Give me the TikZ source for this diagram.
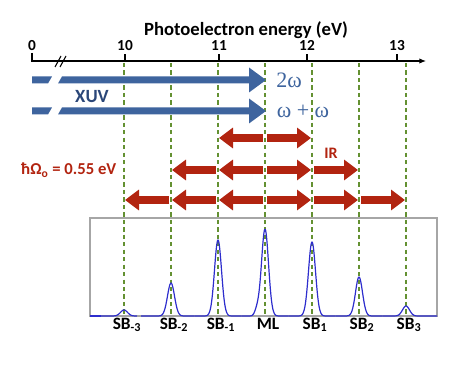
\documentclass[tikz,border=0pt]{standalone}
\usepackage{fontspec}
\setmainfont{Carlito}
\newfontfamily\serifgreek{Liberation Serif}
\usetikzlibrary{arrows.meta}
\definecolor{xuvblue}{RGB}{62,100,158}
\definecolor{xuvtext}{RGB}{42,70,120}
\definecolor{irred}{RGB}{178,36,16}
\definecolor{gridgreen}{RGB}{100,145,50}
\definecolor{peakblue}{RGB}{45,45,205}
\begin{document}
\begin{tikzpicture}[x=0.75pt,y=-0.75pt,
    gridline/.style={gridgreen, line width=0.9pt, dash pattern=on 3.2pt off 2.4pt},
    irarrow/.style={irred, line width=6pt, -{Triangle[length=10.5pt,width=15pt]}},
    ticklab/.style={font=\fontsize{11.5}{13}\selectfont\bfseries, anchor=base},
    sblab/.style={font=\fontsize{13}{15}\selectfont\bfseries, anchor=base},
    peakline/.style={peakblue, line width=0.9pt}]
\useasboundingbox (0,0) rectangle (474,366);

% Dashed lines through the peaks
\foreach \k in {0,...,6}
    \draw[gridline] ({124+47*\k},63) -- ({124+47*\k},316);

% Energy axis
\draw[line width=0.8pt, -{Latex[length=5pt,width=4pt]}] (32,53) -- (32,61) -- (426,61);
\draw[line width=0.8pt] (55,67) -- (61,56);
\draw[line width=0.8pt] (60,67) -- (66,56);
\node[ticklab] (t0) at (32,51) {0};
\foreach \x/\lab in {125/10, 219/11, 307/12, 397/13} {
    \draw[line width=0.8pt] (\x,61) -- (\x,54);
    \node[ticklab] (t\lab) at (\x,51) {\lab};
}
\node[font=\fontsize{14}{16}\selectfont\bfseries, anchor=base] (title) at (246,36) {Photoelectron energy (eV)};

% XUV arrows
\foreach \y in {80,111} {
    \fill[xuvblue] (32,\y-3.5) -- (52,\y-3.5) -- (48,\y+3.5) -- (32,\y+3.5) -- cycle;
    \fill[xuvblue] (62,\y-3.5) -- (249,\y-3.5) -- (249,\y-12.5) -- (266,\y)
        -- (249,\y+12.5) -- (249,\y+3.5) -- (58,\y+3.5) -- cycle;
}
\node[text=xuvtext, font=\fontsize{14}{16}\selectfont\bfseries] (xuv) at (92,97) {XUV};
\node[text=xuvblue, font=\serifgreek\fontsize{16.5}{19}\selectfont, anchor=base] (two) at (289,88) {2ω};
\node[text=xuvblue, font=\serifgreek\fontsize{16.5}{19}\selectfont, anchor=base] (sum) at (303,118) {ω + ω};

% IR arrows, left then right
\foreach \i/\y in {2/138, 1/170, 2/170, 0/200, 1/200, 2/200}
    \draw[irarrow] ({124+47*(\i+1)-2},\y) -- ({124+47*\i+1},\y);
\foreach \i/\y in {3/138, 3/170, 4/170, 3/200, 4/200, 5/200}
    \draw[irarrow] ({124+47*\i+2},\y) -- ({124+47*(\i+1)-1},\y);
\node[text=irred, font=\fontsize{12}{14}\selectfont\bfseries] (ir) at (331,153) {IR};
\node[text=irred, font=\fontsize{12.5}{14}\selectfont\bfseries, anchor=base east] (hbar) at (121,175) {ħΩ\textsubscript{o} = 0.55 eV};

% Spectrum
\draw[gray!70, line width=0.9pt] (90,218) rectangle (437,316);
\draw[peakline] (90,316) -- (100.5,316);
\foreach \pos/\amp/\sh/\lo/\hi in {124/6/0/100.5/137, 171/33/0/141/194.5, 218/76/0/194.5/241.5,
        265/87/6/241.5/288.5, 312/74/0/288.5/335.5, 359/39/0/335.5/382.5, 406/10/0/382.5/437}
    \draw[peakline] plot[domain=\lo:\hi, samples=70, smooth]
        (\x, {316 - \amp*exp(-(\x-\pos)^2/24.5) - \sh*exp(-(\x-\pos+8)^2/10)});

% Peak labels
\node[sblab] (sbm3) at (127,329) {SB\textsubscript{-3}};
\node[sblab] (sbm2) at (174,329) {SB\textsubscript{-2}};
\node[sblab] (sbm1) at (221,329) {SB\textsubscript{-1}};
\node[sblab] (ml) at (268,329) {ML};
\node[sblab] (sbp1) at (315,329) {SB\textsubscript{1}};
\node[sblab] (sbp2) at (362,329) {SB\textsubscript{2}};
\node[sblab] (sbp3) at (409,329) {SB\textsubscript{3}};
\end{tikzpicture}
\end{document}
